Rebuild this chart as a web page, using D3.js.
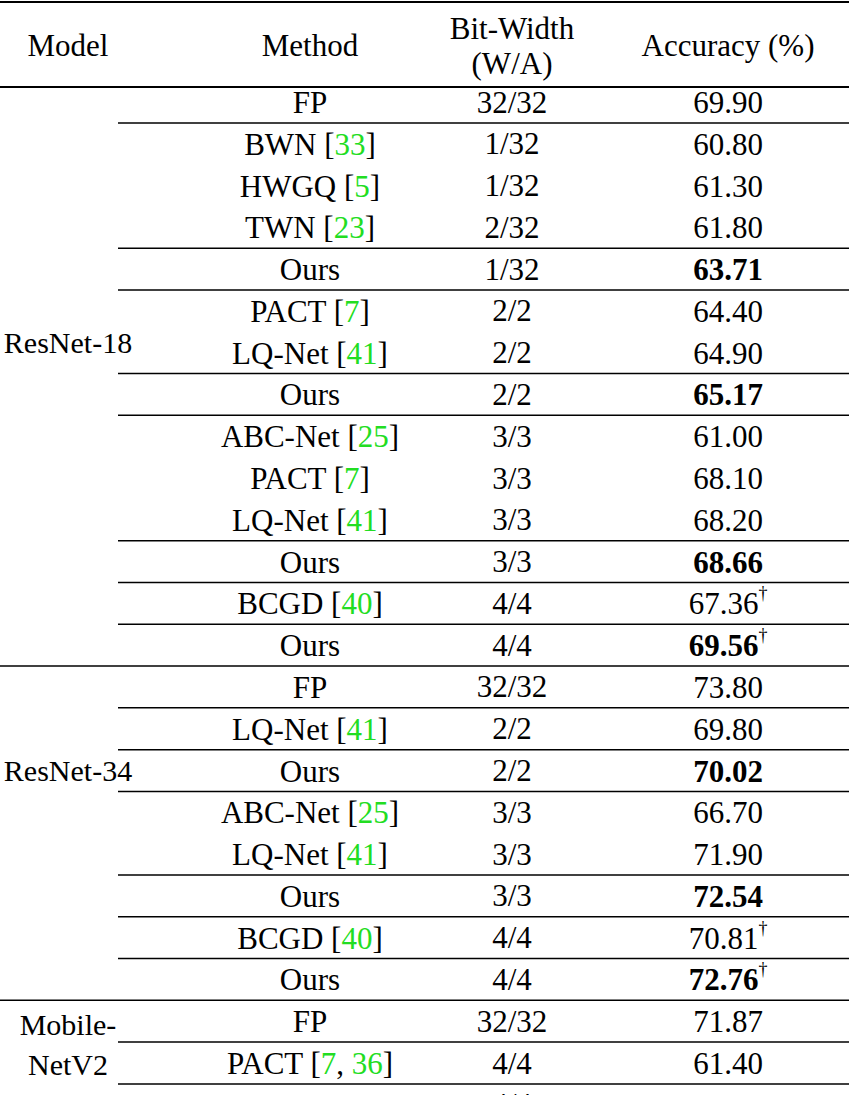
<!DOCTYPE html>
<html><head><meta charset="utf-8">
<script src="https://cdn.jsdelivr.net/npm/d3@7"></script>
<style>body{margin:0;background:#fff}</style>
</head><body>
<svg id="tbl" width="849" height="1095"></svg>
<script>
// table data
var models = [
  {name: ["ResNet-18"], row: 5.75},
  {name: ["ResNet-34"], row: 16},
  {name: ["Mobile-", "NetV2"], row: 22.5}
];
var methods = ["FP","BWN","HWGQ","TWN","Ours","PACT","LQ-Net","Ours","ABC-Net","PACT","LQ-Net","Ours","BCGD","Ours",
  "FP","LQ-Net","Ours","ABC-Net","LQ-Net","Ours","BCGD","Ours",
  "FP","PACT","Ours"];
var refs = [[],["33"],["5"],["23"],[],["7"],["41"],[],["25"],["7"],["41"],[],["40"],[],
  [],["41"],[],["25"],["41"],[],["40"],[],
  [],["7","36"],[]];
var bits = ["32/32","1/32","1/32","2/32","1/32","2/2","2/2","2/2","3/3","3/3","3/3","3/3","4/4","4/4",
  "32/32","2/2","2/2","3/3","3/3","3/3","4/4","4/4",
  "32/32","4/4","4/4"];
var accuracy = ["69.90","60.80","61.30","61.80","63.71","64.40","64.90","65.17","61.00","68.10","68.20","68.66","67.36","69.56",
  "73.80","69.80","70.02","66.70","71.90","72.54","70.81","72.76",
  "71.87","61.40","64.80"];
var best = [4,7,11,13,16,19,21,24];
var dagger = [12,13,20,21];
// row indices after which a partial rule is drawn
var partialRules = [0,3,4,6,7,10,11,12,14,15,16,18,19,20,22,23];
var fullRules = [13,21];

var svg = d3.select("#tbl");
var font = "'Liberation Serif', 'Times New Roman', serif";
var y = d3.scaleLinear().domain([0, 23]).range([102, 1063]);
var cx = {model: 68, method: 310, bits: 512, acc: 728};

function txt(x, yy, s, opts) {
  opts = opts || {};
  return svg.append("text").attr("x", x).attr("y", yy)
    .attr("text-anchor", "middle").attr("dominant-baseline", "central")
    .attr("font-family", font).attr("font-size", opts.size || 31)
    .attr("font-weight", opts.bold ? "bold" : "normal")
    .attr("fill", "#000").text(s);
}

// header
svg.append("line").attr("x1", 0).attr("x2", 849).attr("y1", 2).attr("y2", 2).attr("stroke", "#000").attr("stroke-width", 2);
txt(cx.model, 45, "Model");
txt(cx.method, 45, "Method");
txt(cx.bits, 28, "Bit-Width");
txt(cx.bits, 63, "(W/A)");
txt(cx.acc, 45, "Accuracy (%)");
svg.append("line").attr("x1", 0).attr("x2", 849).attr("y1", 87).attr("y2", 87).attr("stroke", "#000").attr("stroke-width", 2);

// rows
methods.forEach(function(m, i) {
  var t = txt(cx.method, y(i), null);
  t.append("tspan").text(m + (refs[i].length ? " [" : ""));
  refs[i].forEach(function(r, k) {
    if (k > 0) t.append("tspan").text(", ");
    t.append("tspan").attr("fill", "#22dd22").text(r);
  });
  if (refs[i].length) t.append("tspan").text("]");
  txt(cx.bits, y(i), bits[i]);
  var a = txt(cx.acc, y(i), null, {bold: best.indexOf(i) >= 0});
  a.append("tspan").text(accuracy[i]);
  if (dagger.indexOf(i) >= 0) {
    a.append("tspan").attr("font-size", 18).attr("font-weight", "normal").attr("dy", -10).text("\u2020");
  }
});

partialRules.forEach(function(i) {
  var yy = (y(i) + y(i + 1)) / 2;
  svg.append("line").attr("x1", 118).attr("x2", 849).attr("y1", yy).attr("y2", yy).attr("stroke", "#000").attr("stroke-width", 1.5);
});
fullRules.forEach(function(i) {
  var yy = (y(i) + y(i + 1)) / 2;
  svg.append("line").attr("x1", 0).attr("x2", 849).attr("y1", yy).attr("y2", yy).attr("stroke", "#000").attr("stroke-width", 1.5);
});

// model names
models.forEach(function(md) {
  if (md.name.length === 1) txt(cx.model, y(md.row), md.name[0], {size: 30});
  else {
    txt(cx.model, y(md.row) - 18, md.name[0], {size: 30});
    txt(cx.model, y(md.row) + 22, md.name[1], {size: 30});
  }
});
</script>
</body></html>
